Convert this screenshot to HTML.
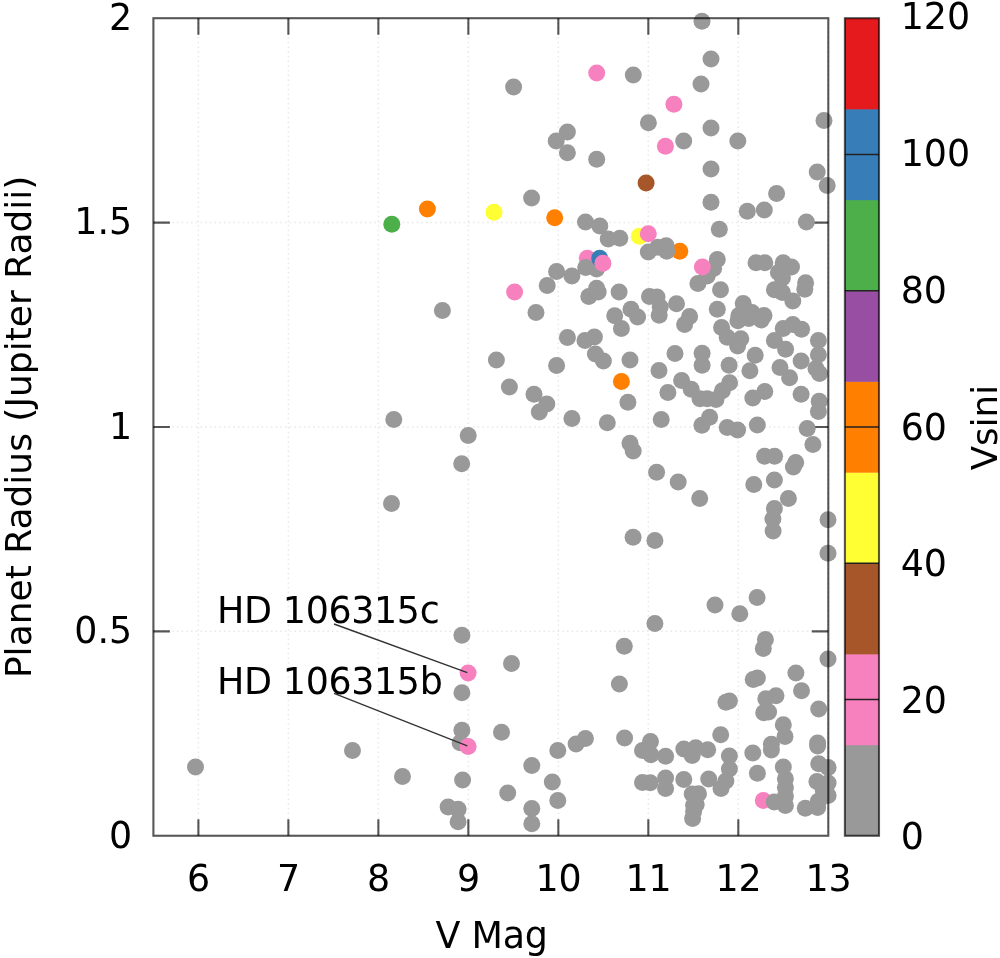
<!DOCTYPE html>
<html><head><meta charset="utf-8"><title>V Mag vs Planet Radius</title>
<style>html,body{margin:0;padding:0;background:#fff}svg{display:block;filter:blur(0.55px)}text{font-family:"DejaVu Sans","Liberation Sans",sans-serif;fill:#000}</style></head><body>
<svg width="1000" height="958" viewBox="0 0 1000 958">
<rect width="1000" height="958" fill="#fff"/>
<path d="M198.39 18.2 V835.75 M288.38 18.2 V835.75 M378.37 18.2 V835.75 M468.35 18.2 V835.75 M558.34 18.2 V835.75 M648.33 18.2 V835.75 M738.31 18.2 V835.75 M828.30 18.2 V835.75 M153.4 631.36 H828.3 M153.4 426.98 H828.3 M153.4 222.59 H828.3" stroke="#e9e9e9" stroke-width="1.5" stroke-dasharray="1.6 3.1" fill="none"/>
<path d="M198.39 835.75 v-16.5 M198.39 18.2 v16.5 M288.38 835.75 v-16.5 M288.38 18.2 v16.5 M378.37 835.75 v-16.5 M378.37 18.2 v16.5 M468.35 835.75 v-16.5 M468.35 18.2 v16.5 M558.34 835.75 v-16.5 M558.34 18.2 v16.5 M648.33 835.75 v-16.5 M648.33 18.2 v16.5 M738.31 835.75 v-16.5 M738.31 18.2 v16.5 M153.4 631.36 h16.5 M828.3 631.36 h-16.5 M153.4 426.98 h16.5 M828.3 426.98 h-16.5 M153.4 222.59 h16.5 M828.3 222.59 h-16.5" stroke="#000" stroke-opacity="0.66" stroke-width="2.1" fill="none"/>
<g>
<circle cx="679.8" cy="251.3" r="8.5" fill="#ff7f00"/>
<circle cx="587.3" cy="258.2" r="8.5" fill="#f781bf"/>
<circle cx="763.3" cy="800.5" r="8.5" fill="#f781bf"/>
<circle cx="531.6" cy="198.1" r="8.5" fill="#999999"/>
<circle cx="513.6" cy="86.9" r="8.5" fill="#999999"/>
<circle cx="567.4" cy="132.0" r="8.5" fill="#999999"/>
<circle cx="556.2" cy="141.0" r="8.5" fill="#999999"/>
<circle cx="567.4" cy="152.8" r="8.5" fill="#999999"/>
<circle cx="596.7" cy="159.3" r="8.5" fill="#999999"/>
<circle cx="585.5" cy="221.9" r="8.5" fill="#999999"/>
<circle cx="702.0" cy="21.3" r="8.5" fill="#999999"/>
<circle cx="711.0" cy="59.1" r="8.5" fill="#999999"/>
<circle cx="701.0" cy="83.9" r="8.5" fill="#999999"/>
<circle cx="633.3" cy="74.9" r="8.5" fill="#999999"/>
<circle cx="648.4" cy="122.7" r="8.5" fill="#999999"/>
<circle cx="711.0" cy="128.0" r="8.5" fill="#999999"/>
<circle cx="683.7" cy="141.0" r="8.5" fill="#999999"/>
<circle cx="737.8" cy="141.0" r="8.5" fill="#999999"/>
<circle cx="711.0" cy="169.1" r="8.5" fill="#999999"/>
<circle cx="711.0" cy="202.2" r="8.5" fill="#999999"/>
<circle cx="824.0" cy="120.5" r="8.5" fill="#999999"/>
<circle cx="817.2" cy="172.1" r="8.5" fill="#999999"/>
<circle cx="827.2" cy="185.4" r="8.5" fill="#999999"/>
<circle cx="776.6" cy="193.6" r="8.5" fill="#999999"/>
<circle cx="764.3" cy="209.9" r="8.5" fill="#999999"/>
<circle cx="747.3" cy="211.2" r="8.5" fill="#999999"/>
<circle cx="806.4" cy="221.9" r="8.5" fill="#999999"/>
<circle cx="719.3" cy="229.2" r="8.5" fill="#999999"/>
<circle cx="599.8" cy="226.0" r="8.5" fill="#999999"/>
<circle cx="608.2" cy="239.1" r="8.5" fill="#999999"/>
<circle cx="619.8" cy="238.2" r="8.5" fill="#999999"/>
<circle cx="648.3" cy="252.0" r="8.5" fill="#999999"/>
<circle cx="657.7" cy="247.3" r="8.5" fill="#999999"/>
<circle cx="666.2" cy="245.7" r="8.5" fill="#999999"/>
<circle cx="666.7" cy="251.3" r="8.5" fill="#999999"/>
<circle cx="585.7" cy="267.4" r="8.5" fill="#999999"/>
<circle cx="596.6" cy="268.9" r="8.5" fill="#999999"/>
<circle cx="571.9" cy="276.0" r="8.5" fill="#999999"/>
<circle cx="596.6" cy="288.3" r="8.5" fill="#999999"/>
<circle cx="588.8" cy="296.4" r="8.5" fill="#999999"/>
<circle cx="598.2" cy="292.0" r="8.5" fill="#999999"/>
<circle cx="619.1" cy="292.0" r="8.5" fill="#999999"/>
<circle cx="649.5" cy="296.4" r="8.5" fill="#999999"/>
<circle cx="657.0" cy="297.0" r="8.5" fill="#999999"/>
<circle cx="660.2" cy="307.1" r="8.5" fill="#999999"/>
<circle cx="659.2" cy="315.2" r="8.5" fill="#999999"/>
<circle cx="676.5" cy="303.7" r="8.5" fill="#999999"/>
<circle cx="631.0" cy="309.3" r="8.5" fill="#999999"/>
<circle cx="637.6" cy="317.1" r="8.5" fill="#999999"/>
<circle cx="614.7" cy="315.8" r="8.5" fill="#999999"/>
<circle cx="621.4" cy="328.4" r="8.5" fill="#999999"/>
<circle cx="689.6" cy="316.5" r="8.5" fill="#999999"/>
<circle cx="684.6" cy="324.6" r="8.5" fill="#999999"/>
<circle cx="556.6" cy="271.4" r="8.5" fill="#999999"/>
<circle cx="547.2" cy="285.6" r="8.5" fill="#999999"/>
<circle cx="536.0" cy="312.6" r="8.5" fill="#999999"/>
<circle cx="567.4" cy="337.4" r="8.5" fill="#999999"/>
<circle cx="585.0" cy="340.6" r="8.5" fill="#999999"/>
<circle cx="594.4" cy="337.0" r="8.5" fill="#999999"/>
<circle cx="595.4" cy="354.0" r="8.5" fill="#999999"/>
<circle cx="603.4" cy="361.0" r="8.5" fill="#999999"/>
<circle cx="630.0" cy="360.0" r="8.5" fill="#999999"/>
<circle cx="496.4" cy="360.0" r="8.5" fill="#999999"/>
<circle cx="556.6" cy="365.4" r="8.5" fill="#999999"/>
<circle cx="675.0" cy="353.6" r="8.5" fill="#999999"/>
<circle cx="659.0" cy="370.6" r="8.5" fill="#999999"/>
<circle cx="509.4" cy="387.0" r="8.5" fill="#999999"/>
<circle cx="717.3" cy="259.6" r="8.5" fill="#999999"/>
<circle cx="713.6" cy="268.4" r="8.5" fill="#999999"/>
<circle cx="707.2" cy="275.9" r="8.5" fill="#999999"/>
<circle cx="697.9" cy="283.6" r="8.5" fill="#999999"/>
<circle cx="720.5" cy="289.7" r="8.5" fill="#999999"/>
<circle cx="756.0" cy="262.8" r="8.5" fill="#999999"/>
<circle cx="764.8" cy="262.8" r="8.5" fill="#999999"/>
<circle cx="783.2" cy="262.8" r="8.5" fill="#999999"/>
<circle cx="791.5" cy="267.1" r="8.5" fill="#999999"/>
<circle cx="778.4" cy="272.4" r="8.5" fill="#999999"/>
<circle cx="782.4" cy="278.0" r="8.5" fill="#999999"/>
<circle cx="805.6" cy="282.8" r="8.5" fill="#999999"/>
<circle cx="804.8" cy="289.2" r="8.5" fill="#999999"/>
<circle cx="774.4" cy="289.7" r="8.5" fill="#999999"/>
<circle cx="782.4" cy="292.4" r="8.5" fill="#999999"/>
<circle cx="792.8" cy="300.9" r="8.5" fill="#999999"/>
<circle cx="717.3" cy="309.2" r="8.5" fill="#999999"/>
<circle cx="743.2" cy="303.6" r="8.5" fill="#999999"/>
<circle cx="738.9" cy="315.6" r="8.5" fill="#999999"/>
<circle cx="737.9" cy="320.7" r="8.5" fill="#999999"/>
<circle cx="752.0" cy="312.4" r="8.5" fill="#999999"/>
<circle cx="748.8" cy="318.5" r="8.5" fill="#999999"/>
<circle cx="764.0" cy="315.6" r="8.5" fill="#999999"/>
<circle cx="761.3" cy="320.1" r="8.5" fill="#999999"/>
<circle cx="721.6" cy="327.6" r="8.5" fill="#999999"/>
<circle cx="727.2" cy="337.2" r="8.5" fill="#999999"/>
<circle cx="740.8" cy="338.8" r="8.5" fill="#999999"/>
<circle cx="737.6" cy="346.0" r="8.5" fill="#999999"/>
<circle cx="783.2" cy="328.4" r="8.5" fill="#999999"/>
<circle cx="792.8" cy="324.4" r="8.5" fill="#999999"/>
<circle cx="801.6" cy="329.2" r="8.5" fill="#999999"/>
<circle cx="774.4" cy="340.4" r="8.5" fill="#999999"/>
<circle cx="785.6" cy="349.2" r="8.5" fill="#999999"/>
<circle cx="818.4" cy="340.4" r="8.5" fill="#999999"/>
<circle cx="818.4" cy="354.8" r="8.5" fill="#999999"/>
<circle cx="801.1" cy="360.9" r="8.5" fill="#999999"/>
<circle cx="816.0" cy="368.4" r="8.5" fill="#999999"/>
<circle cx="819.5" cy="373.5" r="8.5" fill="#999999"/>
<circle cx="755.2" cy="355.3" r="8.5" fill="#999999"/>
<circle cx="749.9" cy="370.8" r="8.5" fill="#999999"/>
<circle cx="702.1" cy="353.2" r="8.5" fill="#999999"/>
<circle cx="702.1" cy="365.2" r="8.5" fill="#999999"/>
<circle cx="729.1" cy="365.2" r="8.5" fill="#999999"/>
<circle cx="780.0" cy="367.6" r="8.5" fill="#999999"/>
<circle cx="789.6" cy="377.7" r="8.5" fill="#999999"/>
<circle cx="729.6" cy="382.8" r="8.5" fill="#999999"/>
<circle cx="722.4" cy="390.8" r="8.5" fill="#999999"/>
<circle cx="716.0" cy="399.6" r="8.5" fill="#999999"/>
<circle cx="707.2" cy="398.8" r="8.5" fill="#999999"/>
<circle cx="700.0" cy="398.8" r="8.5" fill="#999999"/>
<circle cx="691.2" cy="389.2" r="8.5" fill="#999999"/>
<circle cx="681.6" cy="380.4" r="8.5" fill="#999999"/>
<circle cx="764.8" cy="391.6" r="8.5" fill="#999999"/>
<circle cx="752.8" cy="398.0" r="8.5" fill="#999999"/>
<circle cx="801.1" cy="394.3" r="8.5" fill="#999999"/>
<circle cx="819.2" cy="401.2" r="8.5" fill="#999999"/>
<circle cx="818.4" cy="411.6" r="8.5" fill="#999999"/>
<circle cx="709.6" cy="417.2" r="8.5" fill="#999999"/>
<circle cx="701.9" cy="425.2" r="8.5" fill="#999999"/>
<circle cx="727.2" cy="427.6" r="8.5" fill="#999999"/>
<circle cx="737.6" cy="430.0" r="8.5" fill="#999999"/>
<circle cx="757.3" cy="424.9" r="8.5" fill="#999999"/>
<circle cx="807.2" cy="428.4" r="8.5" fill="#999999"/>
<circle cx="667.9" cy="392.4" r="8.5" fill="#999999"/>
<circle cx="627.9" cy="402.3" r="8.5" fill="#999999"/>
<circle cx="534.0" cy="394.3" r="8.5" fill="#999999"/>
<circle cx="546.8" cy="404.1" r="8.5" fill="#999999"/>
<circle cx="539.3" cy="411.9" r="8.5" fill="#999999"/>
<circle cx="571.9" cy="418.5" r="8.5" fill="#999999"/>
<circle cx="607.3" cy="422.8" r="8.5" fill="#999999"/>
<circle cx="661.2" cy="419.6" r="8.5" fill="#999999"/>
<circle cx="630.0" cy="443.3" r="8.5" fill="#999999"/>
<circle cx="633.2" cy="451.1" r="8.5" fill="#999999"/>
<circle cx="442.4" cy="310.6" r="8.5" fill="#999999"/>
<circle cx="393.8" cy="419.4" r="8.5" fill="#999999"/>
<circle cx="468.2" cy="435.6" r="8.5" fill="#999999"/>
<circle cx="461.7" cy="463.7" r="8.5" fill="#999999"/>
<circle cx="812.9" cy="444.5" r="8.5" fill="#999999"/>
<circle cx="764.6" cy="456.3" r="8.5" fill="#999999"/>
<circle cx="774.6" cy="456.3" r="8.5" fill="#999999"/>
<circle cx="795.7" cy="462.5" r="8.5" fill="#999999"/>
<circle cx="793.4" cy="467.1" r="8.5" fill="#999999"/>
<circle cx="656.6" cy="472.3" r="8.5" fill="#999999"/>
<circle cx="678.2" cy="482.1" r="8.5" fill="#999999"/>
<circle cx="699.7" cy="498.4" r="8.5" fill="#999999"/>
<circle cx="753.8" cy="484.6" r="8.5" fill="#999999"/>
<circle cx="774.4" cy="480.1" r="8.5" fill="#999999"/>
<circle cx="788.4" cy="498.4" r="8.5" fill="#999999"/>
<circle cx="774.4" cy="508.4" r="8.5" fill="#999999"/>
<circle cx="772.9" cy="518.9" r="8.5" fill="#999999"/>
<circle cx="773.1" cy="530.9" r="8.5" fill="#999999"/>
<circle cx="828.0" cy="519.7" r="8.5" fill="#999999"/>
<circle cx="828.0" cy="553.2" r="8.5" fill="#999999"/>
<circle cx="633.1" cy="537.2" r="8.5" fill="#999999"/>
<circle cx="654.9" cy="540.5" r="8.5" fill="#999999"/>
<circle cx="757.1" cy="597.6" r="8.5" fill="#999999"/>
<circle cx="715.0" cy="605.1" r="8.5" fill="#999999"/>
<circle cx="739.8" cy="613.8" r="8.5" fill="#999999"/>
<circle cx="654.9" cy="623.6" r="8.5" fill="#999999"/>
<circle cx="765.4" cy="639.6" r="8.5" fill="#999999"/>
<circle cx="763.3" cy="648.4" r="8.5" fill="#999999"/>
<circle cx="624.3" cy="646.2" r="8.5" fill="#999999"/>
<circle cx="828.0" cy="658.9" r="8.5" fill="#999999"/>
<circle cx="795.9" cy="673.0" r="8.5" fill="#999999"/>
<circle cx="753.2" cy="679.6" r="8.5" fill="#999999"/>
<circle cx="757.4" cy="678.1" r="8.5" fill="#999999"/>
<circle cx="801.5" cy="690.7" r="8.5" fill="#999999"/>
<circle cx="725.9" cy="702.3" r="8.5" fill="#999999"/>
<circle cx="729.4" cy="700.9" r="8.5" fill="#999999"/>
<circle cx="765.8" cy="698.8" r="8.5" fill="#999999"/>
<circle cx="776.0" cy="695.7" r="8.5" fill="#999999"/>
<circle cx="763.7" cy="712.8" r="8.5" fill="#999999"/>
<circle cx="768.6" cy="712.1" r="8.5" fill="#999999"/>
<circle cx="818.7" cy="708.9" r="8.5" fill="#999999"/>
<circle cx="783.3" cy="724.7" r="8.5" fill="#999999"/>
<circle cx="785.0" cy="736.6" r="8.5" fill="#999999"/>
<circle cx="720.7" cy="734.8" r="8.5" fill="#999999"/>
<circle cx="771.4" cy="744.3" r="8.5" fill="#999999"/>
<circle cx="771.4" cy="749.9" r="8.5" fill="#999999"/>
<circle cx="817.6" cy="742.9" r="8.5" fill="#999999"/>
<circle cx="817.6" cy="746.0" r="8.5" fill="#999999"/>
<circle cx="707.7" cy="749.7" r="8.5" fill="#999999"/>
<circle cx="729.4" cy="756.1" r="8.5" fill="#999999"/>
<circle cx="752.8" cy="753.0" r="8.5" fill="#999999"/>
<circle cx="729.4" cy="769.0" r="8.5" fill="#999999"/>
<circle cx="757.4" cy="773.2" r="8.5" fill="#999999"/>
<circle cx="783.3" cy="766.9" r="8.5" fill="#999999"/>
<circle cx="818.7" cy="763.8" r="8.5" fill="#999999"/>
<circle cx="828.1" cy="767.6" r="8.5" fill="#999999"/>
<circle cx="708.7" cy="779.1" r="8.5" fill="#999999"/>
<circle cx="725.9" cy="780.9" r="8.5" fill="#999999"/>
<circle cx="721.0" cy="788.6" r="8.5" fill="#999999"/>
<circle cx="785.4" cy="778.8" r="8.5" fill="#999999"/>
<circle cx="785.4" cy="787.6" r="8.5" fill="#999999"/>
<circle cx="785.4" cy="796.3" r="8.5" fill="#999999"/>
<circle cx="785.4" cy="805.4" r="8.5" fill="#999999"/>
<circle cx="774.2" cy="801.9" r="8.5" fill="#999999"/>
<circle cx="816.9" cy="781.6" r="8.5" fill="#999999"/>
<circle cx="828.1" cy="783.0" r="8.5" fill="#999999"/>
<circle cx="823.2" cy="790.0" r="8.5" fill="#999999"/>
<circle cx="828.1" cy="795.6" r="8.5" fill="#999999"/>
<circle cx="818.3" cy="801.2" r="8.5" fill="#999999"/>
<circle cx="817.6" cy="807.5" r="8.5" fill="#999999"/>
<circle cx="805.3" cy="808.2" r="8.5" fill="#999999"/>
<circle cx="624.6" cy="738.0" r="8.5" fill="#999999"/>
<circle cx="650.5" cy="741.5" r="8.5" fill="#999999"/>
<circle cx="642.5" cy="750.6" r="8.5" fill="#999999"/>
<circle cx="650.9" cy="754.8" r="8.5" fill="#999999"/>
<circle cx="665.6" cy="756.2" r="8.5" fill="#999999"/>
<circle cx="683.8" cy="748.9" r="8.5" fill="#999999"/>
<circle cx="695.7" cy="747.8" r="8.5" fill="#999999"/>
<circle cx="692.2" cy="755.5" r="8.5" fill="#999999"/>
<circle cx="642.5" cy="782.5" r="8.5" fill="#999999"/>
<circle cx="650.2" cy="782.8" r="8.5" fill="#999999"/>
<circle cx="665.6" cy="777.9" r="8.5" fill="#999999"/>
<circle cx="665.6" cy="788.4" r="8.5" fill="#999999"/>
<circle cx="683.8" cy="779.6" r="8.5" fill="#999999"/>
<circle cx="692.2" cy="794.0" r="8.5" fill="#999999"/>
<circle cx="698.5" cy="793.7" r="8.5" fill="#999999"/>
<circle cx="693.6" cy="805.2" r="8.5" fill="#999999"/>
<circle cx="692.6" cy="818.5" r="8.5" fill="#999999"/>
<circle cx="461.9" cy="635.3" r="8.5" fill="#999999"/>
<circle cx="511.5" cy="663.4" r="8.5" fill="#999999"/>
<circle cx="461.9" cy="692.7" r="8.5" fill="#999999"/>
<circle cx="461.9" cy="730.3" r="8.5" fill="#999999"/>
<circle cx="460.1" cy="742.8" r="8.5" fill="#999999"/>
<circle cx="501.5" cy="732.3" r="8.5" fill="#999999"/>
<circle cx="462.6" cy="779.9" r="8.5" fill="#999999"/>
<circle cx="402.5" cy="776.6" r="8.5" fill="#999999"/>
<circle cx="448.1" cy="806.9" r="8.5" fill="#999999"/>
<circle cx="458.1" cy="809.2" r="8.5" fill="#999999"/>
<circle cx="458.1" cy="821.7" r="8.5" fill="#999999"/>
<circle cx="507.7" cy="792.9" r="8.5" fill="#999999"/>
<circle cx="531.8" cy="765.6" r="8.5" fill="#999999"/>
<circle cx="557.8" cy="750.6" r="8.5" fill="#999999"/>
<circle cx="576.1" cy="744.0" r="8.5" fill="#999999"/>
<circle cx="585.4" cy="738.5" r="8.5" fill="#999999"/>
<circle cx="552.3" cy="782.1" r="8.5" fill="#999999"/>
<circle cx="557.8" cy="800.4" r="8.5" fill="#999999"/>
<circle cx="531.8" cy="808.4" r="8.5" fill="#999999"/>
<circle cx="531.8" cy="823.7" r="8.5" fill="#999999"/>
<circle cx="619.4" cy="683.9" r="8.5" fill="#999999"/>
<circle cx="195.5" cy="767.0" r="8.5" fill="#999999"/>
<circle cx="352.5" cy="750.5" r="8.5" fill="#999999"/>
<circle cx="391.5" cy="503.5" r="8.5" fill="#999999"/>
<circle cx="693.6" cy="811.6" r="8.5" fill="#999999"/>
<circle cx="696.2" cy="804.4" r="8.5" fill="#999999"/>
<circle cx="391.8" cy="224.2" r="8.5" fill="#4daf4a"/>
<circle cx="427.4" cy="208.9" r="8.5" fill="#ff7f00"/>
<circle cx="554.7" cy="217.7" r="8.5" fill="#ff7f00"/>
<circle cx="621.4" cy="381.6" r="8.5" fill="#ff7f00"/>
<circle cx="494.0" cy="212.2" r="8.5" fill="#ffff33"/>
<circle cx="639.3" cy="236.3" r="8.5" fill="#ffff33"/>
<circle cx="646.1" cy="183.1" r="8.5" fill="#a65628"/>
<circle cx="599.7" cy="258.2" r="8.5" fill="#377eb8"/>
<circle cx="596.7" cy="72.9" r="8.5" fill="#f781bf"/>
<circle cx="673.9" cy="104.2" r="8.5" fill="#f781bf"/>
<circle cx="665.4" cy="146.3" r="8.5" fill="#f781bf"/>
<circle cx="648.3" cy="233.8" r="8.5" fill="#f781bf"/>
<circle cx="602.9" cy="263.2" r="8.5" fill="#f781bf"/>
<circle cx="514.6" cy="292.0" r="8.5" fill="#f781bf"/>
<circle cx="702.4" cy="267.1" r="8.5" fill="#f781bf"/>
<circle cx="468.1" cy="673.1" r="8.5" fill="#f781bf"/>
<circle cx="468.1" cy="746.5" r="8.5" fill="#f781bf"/>
</g>
<path d="M334 624 L467.3 672.6 M334 693.4 L467.3 745.8" stroke="#333" stroke-width="1.35" fill="none"/>
<rect x="153.4" y="18.2" width="674.9" height="817.55" fill="none" stroke="#000" stroke-opacity="0.66" stroke-width="2.1"/>
<rect x="844.9" y="744.91" width="34.10000000000002" height="91.14" fill="#999999"/>
<rect x="844.9" y="654.07" width="34.10000000000002" height="91.14" fill="#f781bf"/>
<rect x="844.9" y="563.23" width="34.10000000000002" height="91.14" fill="#a65628"/>
<rect x="844.9" y="472.39" width="34.10000000000002" height="91.14" fill="#ffff33"/>
<rect x="844.9" y="381.56" width="34.10000000000002" height="91.14" fill="#ff7f00"/>
<rect x="844.9" y="290.72" width="34.10000000000002" height="91.14" fill="#984ea3"/>
<rect x="844.9" y="199.88" width="34.10000000000002" height="91.14" fill="#4daf4a"/>
<rect x="844.9" y="109.04" width="34.10000000000002" height="91.14" fill="#377eb8"/>
<rect x="844.9" y="18.20" width="34.10000000000002" height="91.14" fill="#e41a1c"/>
<path d="M844.9 699.49 H879.0 M844.9 563.23 H879.0 M844.9 426.98 H879.0 M844.9 290.72 H879.0 M844.9 154.46 H879.0" stroke="#222" stroke-width="1.6" fill="none"/>
<rect x="844.9" y="18.2" width="34.10000000000002" height="817.55" fill="none" stroke="#000" stroke-opacity="0.66" stroke-width="2.1"/>
<g font-size="36.4">
<text x="198.69" y="890.75" text-anchor="middle">6</text>
<text x="288.68" y="890.75" text-anchor="middle">7</text>
<text x="378.67" y="890.75" text-anchor="middle">8</text>
<text x="468.65" y="890.75" text-anchor="middle">9</text>
<text x="558.64" y="890.75" text-anchor="middle">10</text>
<text x="648.63" y="890.75" text-anchor="middle">11</text>
<text x="738.61" y="890.75" text-anchor="middle">12</text>
<text x="828.60" y="890.75" text-anchor="middle">13</text>
<text x="132.2" y="847.50" text-anchor="end">0</text>
<text x="132.2" y="643.11" text-anchor="end">0.5</text>
<text x="132.2" y="438.73" text-anchor="end">1</text>
<text x="132.2" y="234.34" text-anchor="end">1.5</text>
<text x="132.2" y="29.95" text-anchor="end">2</text>
<text x="900.7" y="849.10">0</text>
<text x="900.7" y="712.79">20</text>
<text x="900.7" y="576.48">40</text>
<text x="900.7" y="440.18">60</text>
<text x="900.7" y="303.02">80</text>
<text x="900.7" y="166.46">100</text>
<text x="900.7" y="29.10">120</text>
<text x="491.6" y="947.9" text-anchor="middle" letter-spacing="-0.2">V Mag</text>
<text transform="translate(31.3 426.85) rotate(-90)" text-anchor="middle" font-size="36">Planet Radius (Jupiter Radii)</text>
<text transform="translate(996.7 427.6) rotate(-90)" text-anchor="middle" font-size="35.7">Vsini</text>
<text x="217" y="622.9" letter-spacing="-0.36">HD 106315c</text>
<text x="217" y="693.8" letter-spacing="-0.36">HD 106315b</text>
</g>
</svg></body></html>
